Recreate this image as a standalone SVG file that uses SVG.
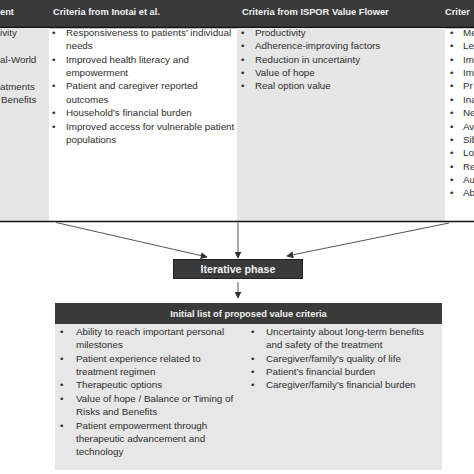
<svg xmlns="http://www.w3.org/2000/svg" width="474" height="474" viewBox="0 0 474 474">
<defs>
<style>
.t{font-family:"Liberation Sans",Arial,sans-serif;font-size:9.8px;fill:#2e2e2e}
.h{font-family:"Liberation Sans",Arial,sans-serif;font-size:9.3px;font-weight:bold;fill:#f2f2f2}
.c{stroke:#555;stroke-width:1;fill:none}
</style>
<marker id="ah" viewBox="0 0 10 10" refX="9" refY="5" markerWidth="7" markerHeight="7" orient="auto" markerUnits="userSpaceOnUse">
<path d="M0,0 L10,5 L0,10 z" fill="#333"/>
</marker>
</defs>
<rect x="0" y="0" width="474" height="474" fill="#fff"/>

<g id="sources">
<rect x="0" y="0" width="474" height="27" fill="#3a3a3a"/>
<line x1="0" y1="27.5" x2="474" y2="27.5" stroke="#111" stroke-width="1.5"/>
<rect x="0" y="28" width="49" height="193" fill="#e6e6e6"/>
<rect x="237" y="28" width="208" height="193" fill="#e6e6e6"/>
<line x1="0" y1="221.5" x2="474" y2="221.5" stroke="#111" stroke-width="1.5"/>
<text class="h" x="0" y="15">ent</text>
<text class="h" x="53" y="15">Criteria from Inotai et al.</text>
<text class="h" x="242" y="15">Criteria from ISPOR Value Flower</text>
<text class="h" x="445" y="15">Criter</text>

<g id="col1">
<text class="t" x="0" y="36">ivity</text>
<text class="t" x="0" y="63">al-World</text>
<text class="t" x="0" y="90">atments</text>
<text class="t" x="1" y="103.4">Benefits</text>
</g>

<g id="col2">
<text class="t" x="52" y="36">•</text><text class="t" x="66" y="36">Responsiveness  to patients’ individual</text>
<text class="t" x="66" y="49.4">needs</text>
<text class="t" x="52" y="62.7">•</text><text class="t" x="66" y="62.7">Improved health literacy and</text>
<text class="t" x="66" y="76">empowerment</text>
<text class="t" x="52" y="89.4">•</text><text class="t" x="66" y="89.4">Patient and caregiver reported</text>
<text class="t" x="66" y="102.8">outcomes</text>
<text class="t" x="52" y="116.1">•</text><text class="t" x="66" y="116.1">Household’s financial burden</text>
<text class="t" x="52" y="129.5">•</text><text class="t" x="66" y="129.5">Improved access for vulnerable patient</text>
<text class="t" x="66" y="142.8">populations</text>
</g>

<g id="col3">
<text class="t" x="241" y="36">•</text><text class="t" x="255" y="36">Productivity</text>
<text class="t" x="241" y="49.4">•</text><text class="t" x="255" y="49.4">Adherence-improving  factors</text>
<text class="t" x="241" y="62.7">•</text><text class="t" x="255" y="62.7">Reduction in uncertainty</text>
<text class="t" x="241" y="76">•</text><text class="t" x="255" y="76">Value of hope</text>
<text class="t" x="241" y="89.4">•</text><text class="t" x="255" y="89.4">Real option value</text>
</g>

<g id="col4">
<text class="t" x="450" y="36">•</text><text class="t" x="463" y="36">Me</text>
<text class="t" x="450" y="49.4">•</text><text class="t" x="463" y="49.4">Le</text>
<text class="t" x="450" y="62.7">•</text><text class="t" x="463" y="62.7">Im</text>
<text class="t" x="450" y="76">•</text><text class="t" x="463" y="76">Im</text>
<text class="t" x="450" y="89.4">•</text><text class="t" x="463" y="89.4">Pr</text>
<text class="t" x="450" y="102.8">•</text><text class="t" x="463" y="102.8">Ina</text>
<text class="t" x="450" y="116.1">•</text><text class="t" x="463" y="116.1">Ne</text>
<text class="t" x="450" y="129.5">•</text><text class="t" x="463" y="129.5">Av</text>
<text class="t" x="450" y="142.8">•</text><text class="t" x="463" y="142.8">Sib</text>
<text class="t" x="450" y="156.2">•</text><text class="t" x="463" y="156.2">Lo</text>
<text class="t" x="450" y="169.5">•</text><text class="t" x="463" y="169.5">Re</text>
<text class="t" x="450" y="182.9">•</text><text class="t" x="463" y="182.9">Au</text>
<text class="t" x="450" y="196.2">•</text><text class="t" x="463" y="196.2">Ab</text>
</g>
</g>

<g id="connectors">
<line class="c" x1="56" y1="222.5" x2="207" y2="257" marker-end="url(#ah)"/>
<line class="c" x1="238" y1="222.5" x2="238" y2="258" marker-end="url(#ah)"/>
<line class="c" x1="449" y1="223" x2="287" y2="256" marker-end="url(#ah)"/>
<line class="c" x1="238" y1="282" x2="238" y2="298" marker-end="url(#ah)"/>
</g>

<g id="iterative">
<rect x="173.5" y="259.5" width="129" height="19" fill="#3a3a3a" stroke="#222" stroke-width="1"/>
<text x="238" y="273" text-anchor="middle" font-family="'Liberation Sans',Arial,sans-serif" font-size="10.7" font-weight="bold" fill="#f2f2f2">Iterative phase</text>
</g>

<g id="initial-list">
<rect x="55" y="303" width="387" height="21" fill="#3a3a3a"/>
<rect x="55" y="324" width="387" height="146" fill="#e7e7e7"/>
<text class="h" x="248.5" y="317" text-anchor="middle" font-size="9.1">Initial list of proposed value criteria</text>
<text class="t" x="60" y="335">•</text><text class="t" x="76" y="335">Ability to reach important personal</text>
<text class="t" x="76" y="348.4">milestones</text>
<text class="t" x="60" y="361.7">•</text><text class="t" x="76" y="361.7">Patient experience related to</text>
<text class="t" x="76" y="375">treatment regimen</text>
<text class="t" x="60" y="388.4">•</text><text class="t" x="76" y="388.4">Therapeutic options</text>
<text class="t" x="60" y="401.8">•</text><text class="t" x="76" y="401.8">Value of hope / Balance or Timing of</text>
<text class="t" x="76" y="415.1">Risks and Benefits</text>
<text class="t" x="60" y="428.5">•</text><text class="t" x="76" y="428.5">Patient empowerment through</text>
<text class="t" x="76" y="441.8">therapeutic advancement and</text>
<text class="t" x="76" y="455.2">technology</text>
<text class="t" x="251" y="335">•</text><text class="t" x="266" y="335">Uncertainty about long-term benefits</text>
<text class="t" x="266" y="348.4">and safety of the treatment</text>
<text class="t" x="251" y="361.7">•</text><text class="t" x="266" y="361.7">Caregiver/family’s quality of life</text>
<text class="t" x="251" y="375">•</text><text class="t" x="266" y="375">Patient’s financial burden</text>
<text class="t" x="251" y="388.4">•</text><text class="t" x="266" y="388.4">Caregiver/family’s financial burden</text>
</g>
</svg>
